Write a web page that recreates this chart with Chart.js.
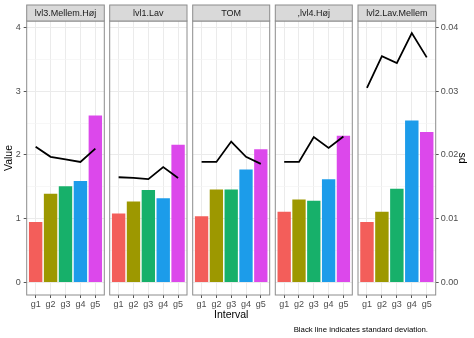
<!DOCTYPE html>
<html>
<head>
<meta charset="utf-8">
<script src="https://cdn.jsdelivr.net/npm/chart.js@4/dist/chart.umd.min.js"></script>
<style>
    body { margin: 0; background: #fff; width: 474px; height: 338px; overflow: hidden; }
    canvas { position: absolute; left: 0; top: 0; }
</style>
</head>
<body>
<script>
// Data
const facets = ['lvl3.Mellem.Høj', 'lvl1.Lav', 'TOM', ',lvl4.Høj', 'lvl2.Lav.Mellem'];
const intervals = ['g1', 'g2', 'g3', 'g4', 'g5'];
const meanVals = [
    [0.95, 1.39, 1.51, 1.59, 2.62],
    [1.08, 1.27, 1.45, 1.32, 2.16],
    [1.04, 1.46, 1.46, 1.77, 2.09],
    [1.11, 1.30, 1.28, 1.62, 2.30],
    [0.95, 1.11, 1.47, 2.54, 2.36]
];
const sdVals = [
    [0.0213, 0.0197, 0.0193, 0.0189, 0.0210],
    [0.0165, 0.0164, 0.0162, 0.0181, 0.0164],
    [0.0189, 0.0189, 0.0221, 0.0197, 0.0186],
    [0.0189, 0.0189, 0.0228, 0.0211, 0.0229],
    [0.0305, 0.0355, 0.0344, 0.0391, 0.0353]
];
const valueTicks = [0, 1, 2, 3, 4];
const valueGrid = [0, 0.5, 1, 1.5, 2, 2.5, 3, 3.5, 4];
const sdTicks = [0, 0.01, 0.02, 0.03, 0.04];
const barColors = ['#F35E5A', '#9D9800', '#17B06A', '#1C9CEA', '#DC48EB'];

// Layout
const W = 474, H = 338;
const panelL = [26.7, 109.7, 192.7, 275.3, 358];
const panelR = [104.3, 187, 269.7, 352.3, 435.7];
const panelTop = 21, panelBot = 295, stripTop = 5;
const yMin = -0.196, yMax = 4.1;
const FONT = "'Liberation Sans', Arial, sans-serif";

const decor = {
    id: 'decor',
    afterDraw(chart, args, opts) {
        const ctx = chart.ctx, a = chart.chartArea;
        const w = a.right - a.left;
        ctx.save();
        // panel border
        ctx.strokeStyle = '#8c8c8c';
        ctx.lineWidth = 1;
        ctx.strokeRect(a.left, a.top, w, a.bottom - a.top);
        // strip
        ctx.fillStyle = '#D9D9D9';
        ctx.fillRect(a.left, stripTop, w, a.top - stripTop);
        ctx.strokeRect(a.left, stripTop, w, a.top - stripTop);
        ctx.fillStyle = '#1A1A1A';
        ctx.font = '9px ' + FONT;
        ctx.textAlign = 'center';
        ctx.textBaseline = 'middle';
        ctx.fillText(opts.label, (a.left + a.right) / 2, (stripTop + a.top) / 2 + 0.5);

        ctx.font = '10.5px ' + FONT;
        ctx.fillStyle = '#000';
        if (opts.yTitle) {
            ctx.save();
            ctx.translate(9, (a.top + a.bottom) / 2);
            ctx.rotate(-Math.PI / 2);
            ctx.fillText(opts.yTitle, 0, 0);
            ctx.restore();
        }
        if (opts.xTitle) {
            ctx.fillText(opts.xTitle, (a.left + a.right) / 2, 315);
        }
        if (opts.y2Title) {
            ctx.save();
            ctx.translate(462, (a.top + a.bottom) / 2);
            ctx.rotate(Math.PI / 2);
            ctx.fillText(opts.y2Title, 0, 0);
            ctx.restore();
        }
        if (opts.caption) {
            ctx.font = '7.8px ' + FONT;
            ctx.textAlign = 'right';
            ctx.fillText(opts.caption, 428, 330);
        }
        ctx.restore();
    }
};

function makePanel(i) {
    const cv = document.createElement('canvas');
    cv.width = W;
    cv.height = H;
    document.body.appendChild(cv);
    const first = i === 0, last = i === facets.length - 1;
    const leftW = first ? 14 : 0;
    const rightW = last ? 30 : 0;
    const xAxisH = 16;
    const tickFont = { size: 9, family: FONT };

    new Chart(cv, {
        type: 'bar',
        data: {
            datasets: [{
                type: 'bar',
                data: intervals.map((g, k) => ({ x: k + 1, y: meanVals[i][k] })),
                backgroundColor: barColors,
                barPercentage: 0.9,
                categoryPercentage: 1,
                yAxisID: 'y',
                order: 2
            }, {
                type: 'line',
                data: intervals.map((g, k) => ({ x: k + 1, y: sdVals[i][k] })),
                borderColor: '#000',
                borderWidth: 1.8,
                pointRadius: 0,
                tension: 0,
                yAxisID: 'y2',
                order: 1
            }]
        },
        options: {
            responsive: false,
            animation: false,
            events: [],
            layout: {
                padding: {
                    left: panelL[i] - leftW,
                    right: W - panelR[i] - rightW,
                    top: panelTop,
                    bottom: H - panelBot - xAxisH
                }
            },
            plugins: {
                legend: { display: false },
                tooltip: { enabled: false },
                decor: {
                    label: facets[i],
                    yTitle: first ? 'Value' : null,
                    xTitle: i === 2 ? 'Interval' : null,
                    y2Title: last ? 'sd' : null,
                    caption: last ? 'Black line indicates standard deviation.' : null
                }
            },
            scales: {
                x: {
                    type: 'linear',
                    min: 0.4,
                    max: 5.6,
                    offset: false,
                    afterBuildTicks: s => { s.ticks = intervals.map((g, k) => ({ value: k + 1 })); },
                    afterFit: s => { s.height = xAxisH; },
                    ticks: {
                        callback: v => intervals[Math.round(v) - 1],
                        color: '#4D4D4D',
                        font: tickFont,
                        padding: 1,
                        maxRotation: 0,
                        autoSkip: false
                    },
                    grid: { color: '#EBEBEB', lineWidth: 1, offset: false, tickLength: 3, tickColor: '#555' },
                    border: { display: false }
                },
                y: {
                    min: yMin,
                    max: yMax,
                    afterBuildTicks: s => { s.ticks = valueGrid.map(v => ({ value: v })); },
                    afterFit: s => { s.width = leftW; },
                    ticks: {
                        display: first,
                        callback: v => valueTicks.includes(v) ? String(v) : '',
                        color: '#4D4D4D',
                        font: tickFont,
                        padding: 3
                    },
                    grid: {
                        color: c => c.tick && c.tick.value % 1 === 0 ? '#EBEBEB' : '#F4F4F4',
                        lineWidth: c => c.tick && c.tick.value % 1 === 0 ? 1 : 0.7,
                        drawTicks: first,
                        tickLength: 3,
                        tickColor: c => c.tick && c.tick.value % 1 === 0 ? '#555' : 'rgba(0,0,0,0)'
                    },
                    border: { display: false }
                },
                y2: {
                    position: 'right',
                    display: last,
                    min: yMin / 100,
                    max: yMax / 100,
                    afterBuildTicks: s => { s.ticks = sdTicks.map(v => ({ value: v })); },
                    afterFit: s => { s.width = rightW; },
                    ticks: {
                        callback: v => v.toFixed(2),
                        color: '#4D4D4D',
                        font: tickFont,
                        padding: 2
                    },
                    grid: { drawOnChartArea: false, tickLength: 3, tickColor: '#555' },
                    border: { display: false }
                }
            }
        },
        plugins: [decor]
    });
}

facets.forEach((f, i) => makePanel(i));
</script>
</body>
</html>
